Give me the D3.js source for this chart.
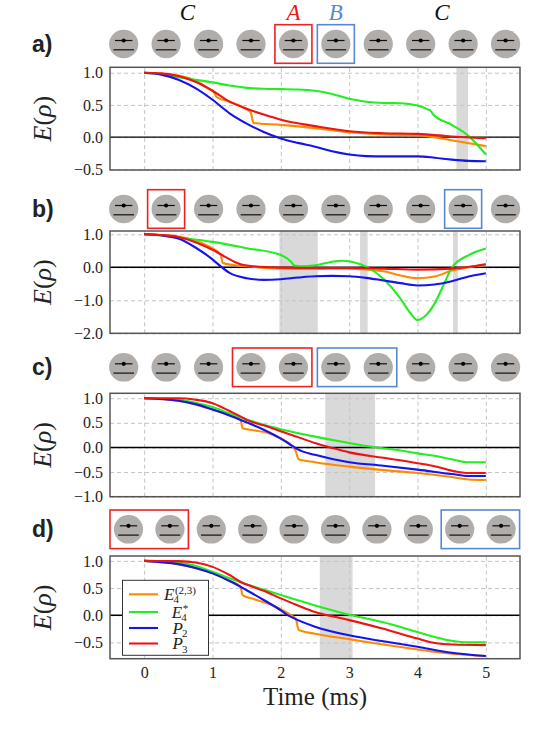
<!DOCTYPE html>
<html>
<head>
<meta charset="utf-8">
<script src="https://cdn.jsdelivr.net/npm/d3@7"></script>
<style>
  body { margin: 0; background: #fff; }
</style>
</head>
<body>
<div id="chart"></div>
<script>
// ---- data ----
const xTicks = [0, 1, 2, 3, 4, 5];
const seriesNames = ["E4(2,3)", "E4*", "P2", "P3"];

// panel a
const aShades = [[4.57, 4.74]];
const aOrange = [[0,1],[0.5,0.955],[0.75,0.875],[0.95,0.75],[1.02,0.70],[1.06,0.62],[1.25,0.55],[1.5,0.43],[1.56,0.38],[1.6,0.22],[2.0,0.19],[2.5,0.14],[3.0,0.075],[3.5,0.04],[4.0,0.03],[4.5,-0.05],[5.0,-0.14]];
const aGreen = [[0,1],[0.25,0.975],[0.5,0.93],[0.75,0.89],[1.0,0.85],[1.25,0.80],[1.5,0.765],[1.75,0.75],[2.0,0.745],[2.25,0.74],[2.5,0.72],[2.75,0.67],[3.0,0.595],[3.25,0.55],[3.5,0.53],[3.75,0.525],[4.0,0.49],[4.15,0.43],[4.2,0.40],[4.23,0.35],[4.5,0.19],[4.75,0.015],[5.0,-0.27]];
const aBlue = [[0,1],[0.25,0.97],[0.5,0.89],[0.75,0.76],[1.0,0.58],[1.25,0.37],[1.5,0.21],[1.75,0.08],[2.0,-0.02],[2.25,-0.09],[2.5,-0.15],[2.75,-0.22],[3.0,-0.27],[3.25,-0.295],[3.5,-0.30],[4.0,-0.30],[4.25,-0.32],[4.5,-0.35],[4.75,-0.37],[5.0,-0.375]];
const aRed = [[0,1],[0.25,0.99],[0.5,0.95],[0.75,0.86],[1.0,0.72],[1.25,0.55],[1.5,0.44],[1.75,0.35],[2.0,0.27],[2.5,0.17],[3.0,0.09],[3.5,0.06],[4.0,0.05],[4.5,0.01],[5.0,-0.02]];

// panel b
const bShades = [[1.98, 2.54], [3.16, 3.27], [4.52, 4.59]];
const bOrange = [[0,1],[0.5,0.93],[0.75,0.80],[1.0,0.57],[1.12,0.38],[1.15,0.13],[1.3,0.07],[1.5,0.03],[2.0,-0.04],[2.5,-0.05],[3.0,-0.04],[3.5,-0.12],[3.75,-0.25],[4.0,-0.33],[4.25,-0.28],[4.5,-0.1],[4.75,0.0],[5.0,0.09]];
const bGreen = [[0,1],[0.25,0.96],[0.5,0.90],[1.0,0.77],[1.5,0.58],[2.0,0.37],[2.15,0.17],[2.2,0.05],[2.3,0.03],[2.5,0.06],[2.75,0.17],[2.9,0.2],[3.05,0.16],[3.25,0.02],[3.5,-0.35],[3.75,-0.95],[3.9,-1.4],[4.0,-1.6],[4.1,-1.5],[4.25,-1.1],[4.4,-0.45],[4.5,-0.02],[4.75,0.37],[5.0,0.57]];
const bBlue = [[0,1],[0.25,0.97],[0.5,0.87],[0.75,0.6],[1.0,0.24],[1.12,0.03],[1.25,-0.17],[1.5,-0.33],[1.75,-0.38],[2.0,-0.36],[2.25,-0.31],[2.5,-0.27],[2.75,-0.26],[3.0,-0.27],[3.25,-0.32],[3.5,-0.4],[3.75,-0.48],[4.0,-0.55],[4.25,-0.52],[4.5,-0.42],[4.75,-0.28],[5.0,-0.18]];
const bRed = [[0,1],[0.25,0.98],[0.5,0.92],[0.75,0.76],[1.0,0.53],[1.2,0.3],[1.4,0.1],[1.6,0.03],[2.0,-0.01],[2.5,-0.02],[3.0,-0.02],[3.5,-0.04],[4.0,-0.07],[4.5,-0.04],[5.0,0.09]];

// panel c
const cShades = [[2.65, 3.38]];
const cOrange = [[0,1],[0.5,0.95],[1.0,0.77],[1.25,0.65],[1.41,0.56],[1.44,0.39],[1.6,0.35],[1.8,0.3],[2.0,0.18],[2.15,0.05],[2.22,-0.08],[2.26,-0.24],[2.5,-0.3],[3.0,-0.39],[3.5,-0.46],[4.0,-0.52],[4.5,-0.6],[4.75,-0.65],[5.0,-0.66]];
const cGreen = [[0,1],[0.5,0.97],[0.75,0.91],[1.0,0.82],[1.25,0.69],[1.5,0.57],[1.75,0.46],[2.0,0.37],[2.5,0.22],[3.0,0.09],[3.4,0.0],[3.75,-0.06],[4.0,-0.12],[4.25,-0.17],[4.5,-0.24],[4.75,-0.3],[5.0,-0.3]];
const cBlue = [[0,1],[0.5,0.95],[0.75,0.88],[1.0,0.77],[1.25,0.65],[1.5,0.51],[1.75,0.36],[2.0,0.18],[2.18,0.02],[2.25,-0.04],[2.5,-0.15],[3.0,-0.3],[3.5,-0.37],[4.0,-0.45],[4.5,-0.54],[4.75,-0.58],[5.0,-0.58]];
const cRed = [[0,1],[0.5,1.0],[0.75,0.97],[1.0,0.9],[1.25,0.74],[1.45,0.6],[1.5,0.56],[1.75,0.45],[2.0,0.33],[2.25,0.21],[2.5,0.09],[2.75,-0.01],[3.0,-0.1],[3.5,-0.21],[4.0,-0.32],[4.25,-0.38],[4.5,-0.47],[4.75,-0.52],[5.0,-0.52]];

// panel d
const dShades = [[2.57, 3.05]];
const dOrange = [[0,1],[0.5,0.94],[1.0,0.77],[1.25,0.63],[1.41,0.53],[1.44,0.37],[1.6,0.3],[1.8,0.22],[2.0,0.11],[2.15,0.0],[2.22,-0.07],[2.26,-0.27],[2.5,-0.34],[3.0,-0.44],[3.5,-0.54],[4.0,-0.63],[4.5,-0.71],[5.0,-0.75]];
const dGreen = [[0,1],[0.5,0.97],[0.75,0.91],[1.0,0.8],[1.25,0.68],[1.5,0.57],[1.75,0.47],[2.0,0.37],[2.5,0.18],[3.0,0.01],[3.5,-0.13],[4.0,-0.31],[4.25,-0.4],[4.5,-0.47],[4.75,-0.5],[5.0,-0.5]];
const dBlue = [[0,1],[0.5,0.94],[0.75,0.87],[1.0,0.77],[1.25,0.63],[1.5,0.46],[1.75,0.28],[2.0,0.09],[2.1,0.0],[2.25,-0.09],[2.5,-0.21],[3.0,-0.37],[3.5,-0.48],[4.0,-0.58],[4.5,-0.69],[5.0,-0.75]];
const dRed = [[0,1],[0.5,0.995],[0.75,0.97],[1.0,0.89],[1.25,0.74],[1.45,0.59],[1.5,0.565],[1.75,0.45],[2.0,0.31],[2.25,0.18],[2.5,0.06],[2.75,-0.02],[3.0,-0.09],[3.5,-0.25],[4.0,-0.43],[4.25,-0.51],[4.5,-0.54],[5.0,-0.55]];

// ---- layout ----
const width = 553, height = 730;
const colors = ["#ff8a00", "#22ee22", "#1414ee", "#ee1414"];
const serif = "'Liberation Serif', 'DejaVu Serif', serif";

const svg = d3.select("#chart").append("svg")
    .attr("width", width)
    .attr("height", height);

const x = d3.scaleLinear().domain([-0.5, 5.5]).range([110, 520]);

const evenSlots = d3.range(10).map(i => 123.7 + 42.43 * i);
const tightSlots = d3.range(10).map(i => 128.5 + 41.4 * i);

const panels = [
    { name: "a)", top: 67.3, bottom: 170, domain: [-0.511, 1.084], ticks: [1, 0.5, 0, -0.5], cy: 44,
      slots: evenSlots, red: [4], blue: [5], shades: aShades, series: [aOrange, aGreen, aBlue, aRed] },
    { name: "b)", top: 231, bottom: 333.3, domain: [-2.0, 1.1], ticks: [1, 0, -1, -2], cy: 209,
      slots: evenSlots, red: [1], blue: [8], shades: bShades, series: [bOrange, bGreen, bBlue, bRed] },
    { name: "c)", top: 393.3, bottom: 496.7, domain: [-1.0, 1.1], ticks: [1, 0.5, 0, -0.5, -1], cy: 367.3,
      slots: evenSlots, red: [3, 4], blue: [5, 6], shades: cShades, series: [cOrange, cGreen, cBlue, cRed] },
    { name: "d)", top: 556, bottom: 658.7, domain: [-0.8, 1.09], ticks: [1, 0.5, 0, -0.5], cy: 529.3,
      slots: tightSlots, red: [0, 1], blue: [8, 9], shades: dShades, series: [dOrange, dGreen, dBlue, dRed] },
];

// top labels C A B C
const topLabels = [
    { text: "C", at: [1, 2], color: "#111" },
    { text: "A", at: [4], color: "#ee1414" },
    { text: "B", at: [5], color: "#5a87d2" },
    { text: "C", at: [7, 8], color: "#111" },
];
svg.append("g")
    .selectAll("text")
    .data(topLabels)
    .join("text")
    .attr("x", d => d3.mean(d.at, i => evenSlots[i]))
    .attr("y", 20)
    .attr("text-anchor", "middle")
    .style("font-family", serif)
    .style("font-style", "italic")
    .style("font-size", "23px")
    .style("fill", d => d.color)
    .text(d => d.text);

const fmt = d3.format(".1f");

panels.forEach((p, pi) => {
    const y = d3.scaleLinear().domain(p.domain).range([p.bottom, p.top]);
    const g = svg.append("g");
    const w = x.range()[1] - x.range()[0];
    const h = p.bottom - p.top;

    // panel letter
    g.append("text")
        .attr("x", 32)
        .attr("y", p.cy + 7.5)
        .style("font-family", "'Liberation Sans', Arial, sans-serif")
        .style("font-weight", "bold")
        .style("font-size", "23px")
        .style("fill", "#222")
        .text(p.name);

    // ion row
    const ions = g.append("g");
    p.slots.forEach(cx => {
        ions.append("ellipse").attr("cx", cx).attr("cy", p.cy).attr("rx", 14.6).attr("ry", 14.3).attr("fill", "#b0adab");
        ions.append("line").attr("x1", cx - 8.7).attr("x2", cx + 8.7).attr("y1", p.cy - 3.5).attr("y2", p.cy - 3.5)
            .attr("stroke", "#111").attr("stroke-width", 1.2);
        ions.append("line").attr("x1", cx - 10.3).attr("x2", cx + 10.3).attr("y1", p.cy + 5.8).attr("y2", p.cy + 5.8)
            .attr("stroke", "#111").attr("stroke-width", 1.2);
        ions.append("circle").attr("cx", cx).attr("cy", p.cy - 3.5).attr("r", 2.1).attr("fill", "#000");
    });
    [[p.red, "#ee2222"], [p.blue, "#5a87d2"]].forEach(([idx, col]) => {
        const x0 = p.slots[idx[0]] - 18.5, x1 = p.slots[idx[idx.length - 1]] + 18.5;
        g.append("rect")
            .attr("x", x0).attr("y", p.cy - 19.3)
            .attr("width", x1 - x0).attr("height", 38.6)
            .attr("fill", "none").attr("stroke", col).attr("stroke-width", 1.6);
    });

    // clip
    g.append("clipPath").attr("id", "clip" + pi)
        .append("rect").attr("x", x.range()[0]).attr("y", p.top).attr("width", w).attr("height", h);

    // shaded intervals
    g.append("g")
        .selectAll("rect")
        .data(p.shades)
        .join("rect")
        .attr("x", d => x(d[0]))
        .attr("width", d => x(d[1]) - x(d[0]))
        .attr("y", p.top)
        .attr("height", h)
        .attr("fill", "#d9d9d9");

    // vertical grid (+ tick labels on bottom panel)
    const xAxis = g.append("g")
        .attr("transform", `translate(0,${p.bottom})`)
        .call(d3.axisBottom(x).tickValues(xTicks).tickSize(-h).tickPadding(8)
            .tickFormat(pi === panels.length - 1 ? d3.format("d") : ""));
    xAxis.select(".domain").remove();
    xAxis.selectAll("line").attr("stroke", "#c4c4c4").attr("stroke-dasharray", "4,3");
    xAxis.selectAll("text").style("font-family", serif).style("font-size", "16px").style("fill", "#222");

    // horizontal grid + y tick labels
    const yAxis = g.append("g")
        .attr("transform", `translate(${x.range()[0]},0)`)
        .call(d3.axisLeft(y).tickValues(p.ticks).tickSize(-w).tickPadding(7).tickFormat(fmt));
    yAxis.select(".domain").remove();
    yAxis.selectAll("line").attr("stroke", "#c4c4c4").attr("stroke-dasharray", "4,3");
    yAxis.selectAll("text").style("font-family", serif).style("font-size", "16px").style("fill", "#222");

    // zero line
    g.append("line")
        .attr("x1", x.range()[0]).attr("x2", x.range()[1])
        .attr("y1", y(0)).attr("y2", y(0))
        .attr("stroke", "#000").attr("stroke-width", 1.4);

    // curves
    const line = d3.line()
        .x(d => x(d[0]))
        .y(d => y(d[1]))
        .curve(d3.curveMonotoneX);
    g.append("g")
        .attr("clip-path", `url(#clip${pi})`)
        .selectAll("path")
        .data(p.series)
        .join("path")
        .attr("d", line)
        .attr("fill", "none")
        .attr("stroke", (d, i) => colors[i])
        .attr("stroke-width", 2.1)
        .attr("stroke-linejoin", "round");

    // frame
    g.append("rect")
        .attr("x", x.range()[0]).attr("y", p.top)
        .attr("width", w).attr("height", h)
        .attr("fill", "none").attr("stroke", "#555").attr("stroke-width", 1.5);

    // y label
    const yl = g.append("text")
        .attr("transform", `translate(51,${(p.top + p.bottom) / 2}) rotate(-90)`)
        .attr("text-anchor", "middle")
        .style("font-family", serif)
        .style("font-size", "26px")
        .style("fill", "#222");
    yl.append("tspan").style("font-style", "italic").text("E");
    yl.append("tspan").text("(");
    yl.append("tspan").style("font-style", "italic").text("ρ");
    yl.append("tspan").text(")");

    // legend in the last panel
    if (pi === panels.length - 1) {
        const lg = g.append("g");
        lg.append("rect")
            .attr("x", 122.5).attr("y", 580.3)
            .attr("width", 86).attr("height", 75)
            .attr("fill", "#fff").attr("stroke", "#333").attr("stroke-width", 1);
        const rows = [594.3, 612, 628, 643.5];
        const labels = [
            { base: "E", sup: "(2,3)", sub: "4" },
            { base: "E", sup: "*", sub: "4" },
            { base: "P", sup: "", sub: "2" },
            { base: "P", sup: "", sub: "3" },
        ];
        seriesNames.forEach((name, i) => {
            lg.append("line")
                .attr("x1", 129).attr("x2", 158)
                .attr("y1", rows[i]).attr("y2", rows[i])
                .attr("stroke", colors[i]).attr("stroke-width", 2.1);
            // one text element: base letter, superscript, then subscript stacked under it
            const t = lg.append("text")
                .attr("y", rows[i] + 5.5)
                .style("font-family", serif)
                .style("fill", "#222");
            const base = t.append("tspan")
                .style("font-style", "italic").style("font-size", "17px")
                .text(labels[i].base);
            let supW = 0;
            if (labels[i].sup) {
                const sp = t.append("tspan")
                    .attr("dx", 0.5).attr("dy", -6)
                    .style("font-size", "11px")
                    .text(labels[i].sup);
                supW = sp.node().getComputedTextLength() + 0.5;
            }
            const sb = t.append("tspan")
                .attr("dx", -supW - 1)
                .attr("dy", labels[i].sup ? 9.5 : 3.5)
                .style("font-size", "11px")
                .text(labels[i].sub);
            const total = base.node().getComputedTextLength() + Math.max(supW, sb.node().getComputedTextLength() - 1);
            t.attr("x", 180 - total / 2);
        });
    }
});

// x axis title
const xt = svg.append("text")
    .attr("x", 315)
    .attr("y", 705)
    .attr("text-anchor", "middle")
    .style("font-family", serif)
    .style("font-size", "25px")
    .style("fill", "#222");
xt.append("tspan").text("Time (m");
xt.append("tspan").style("font-style", "italic").text("s");
xt.append("tspan").text(")");
</script>
</body>
</html>
